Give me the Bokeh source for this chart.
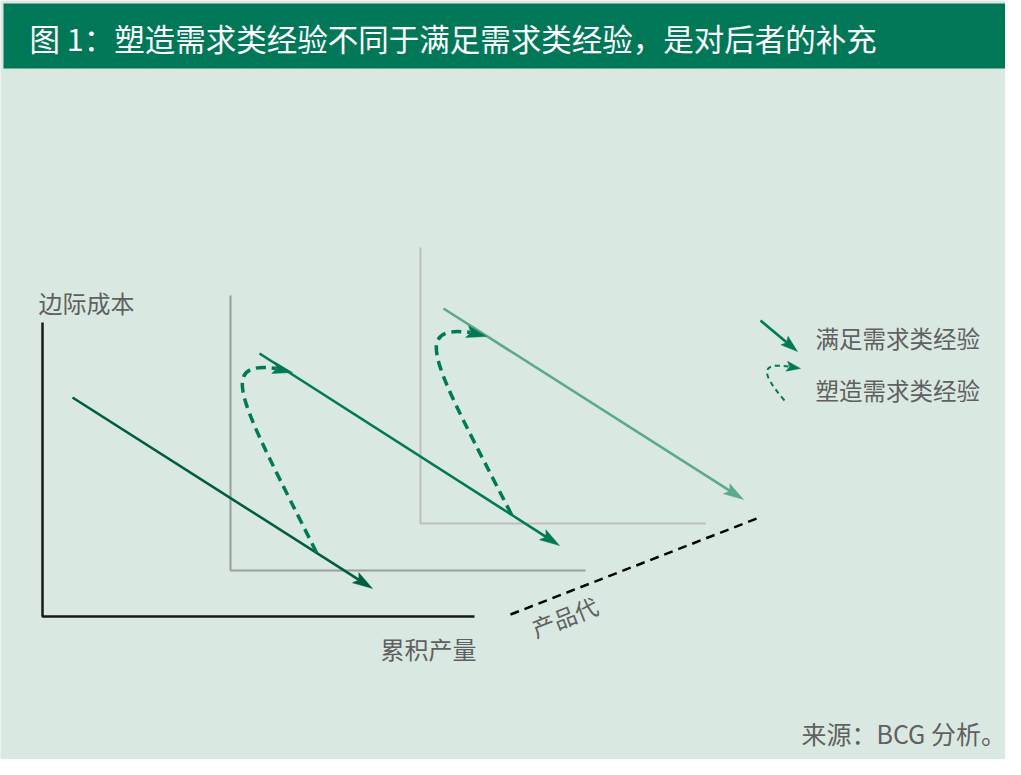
import math
from bokeh.plotting import figure
from bokeh.models import Range1d
from bokeh.core.properties import value
from bokeh.embed import file_html
from bokeh.resources import INLINE

# ---------------- data ----------------
title_text = "图 1：塑造需求类经验不同于满足需求类经验，是对后者的补充"
y_label = "边际成本"
x_label = "累积产量"
gen_label = "产品代"
legend_labels = ["满足需求类经验", "塑造需求类经验"]
source_text = "来源：BCG 分析。"

# axis frames for the three product generations (L shapes)
frame_x0 = [42, 230, 420]
frame_y0 = [616, 570, 523]
frame_top = [322, 295, 247]
frame_right = [474, 585, 705]

# "satisfy demand" experience curves (straight arrows)
curve_x0 = [72, 259, 443]
curve_y0 = [397, 353, 308]
curve_x1 = [372, 559, 743]
curve_y1 = [588, 545, 499]

# "shape demand" loops (cubic bezier)
loop_x0 = [316, 511]
loop_y0 = [552, 514]
loop_cx0 = [240, 434]
loop_cy0 = [400, 364]
loop_cx1 = [215, 409]
loop_cy1 = [360, 324]
loop_x1 = [276, 470]
loop_y1 = [368, 332]
loop_tip_x = [292, 486]
loop_tip_y = [372, 336]

# product generation axis
gen_x = [510, 759]
gen_y = [614, 517]

# legend symbols
leg_arrow_x = [760, 797]
leg_arrow_y = [320, 351]
leg_loop = [784, 400, 760, 372, 760, 362, 788, 366]
leg_loop_tip = [800, 368]

# ---------------- styles ----------------
BG = "#D9E9E2"
TITLE_BG = "#007858"
FONT = "Noto Sans CJK SC"
frame_colors = ["#1A1A1A", "#9C9C9C", "#BDBDBD"]
frame_widths = [2.5, 2, 2]
curve_colors = ["#005E40", "#007A55", "#5CAA8B"]
LOOP_COLOR = "#007A55"
TEXT_GRAY = "#606060"


def head(sx, sy, tx, ty, L, W, notch):
    """Arrow-head polygon at tip (tx, ty) pointing away from (sx, sy)."""
    dx, dy = tx - sx, ty - sy
    n = math.hypot(dx, dy)
    ux, uy = dx / n, dy / n
    px, py = -uy, ux
    bx, by = tx - L * ux, ty - L * uy
    mx, my = tx - (L - notch) * ux, ty - (L - notch) * uy
    xs = [tx, bx + W / 2 * px, mx, bx - W / 2 * px]
    ys = [ty, by + W / 2 * py, my, by - W / 2 * py]
    return xs, ys, mx, my


p = figure(width=1005, height=759, output_backend="svg", toolbar_location=None,
           x_range=Range1d(0, 1005), y_range=Range1d(759, 0),
           min_border=0, background_fill_color=BG, border_fill_color=BG)
p.axis.visible = False
p.grid.visible = False
p.outline_line_color = None

# title bar
p.quad(left=[3], right=[1030], top=[3], bottom=[68], fill_color=TITLE_BG, line_color=None)
p.text(x=[29], y=[37], text=[title_text], text_font=value(FONT), text_font_size="30.5px",
       text_color="white", text_baseline="middle", text_align="left")

# frames (back to front)
for i in [2, 1, 0]:
    p.line(x=[frame_x0[i], frame_x0[i], frame_right[i]],
           y=[frame_top[i], frame_y0[i], frame_y0[i]],
           line_color=frame_colors[i], line_width=frame_widths[i])

# generation axis
p.line(x=gen_x, y=gen_y, line_color="black", line_width=2.5, line_dash="9 6")

# straight arrows
for i in range(3):
    c = curve_colors[i]
    hx, hy, mx, my = head(curve_x0[i], curve_y0[i], curve_x1[i], curve_y1[i], 20, 12, 4)
    p.segment(x0=[curve_x0[i]], y0=[curve_y0[i]], x1=[mx], y1=[my], line_color=c, line_width=2.6)
    p.patch(x=hx, y=hy, fill_color=c, line_color=c, line_width=0.5)

# dashed loops
p.bezier(x0=loop_x0, y0=loop_y0, x1=loop_x1, y1=loop_y1,
         cx0=loop_cx0, cy0=loop_cy0, cx1=loop_cx1, cy1=loop_cy1,
         line_color=LOOP_COLOR, line_width=3.5, line_dash="10 6")
for i in range(2):
    hx, hy, _, _ = head(loop_x1[i], loop_y1[i], loop_tip_x[i], loop_tip_y[i], 20, 12, 4)
    p.patch(x=hx, y=hy, fill_color=LOOP_COLOR, line_color=LOOP_COLOR, line_width=0.5)

# legend
hx, hy, mx, my = head(leg_arrow_x[0], leg_arrow_y[0], leg_arrow_x[1], leg_arrow_y[1], 17, 11, 3)
p.segment(x0=[leg_arrow_x[0]], y0=[leg_arrow_y[0]], x1=[mx], y1=[my], line_color=LOOP_COLOR, line_width=2.6)
p.patch(x=hx, y=hy, fill_color=LOOP_COLOR, line_color=LOOP_COLOR, line_width=0.5)
p.bezier(x0=[leg_loop[0]], y0=[leg_loop[1]], cx0=[leg_loop[2]], cy0=[leg_loop[3]],
         cx1=[leg_loop[4]], cy1=[leg_loop[5]], x1=[leg_loop[6]], y1=[leg_loop[7]],
         line_color=LOOP_COLOR, line_width=2, line_dash="5 4")
hx, hy, _, _ = head(leg_loop[6], leg_loop[7], leg_loop_tip[0], leg_loop_tip[1], 14, 10, 3)
p.patch(x=hx, y=hy, fill_color=LOOP_COLOR, line_color=LOOP_COLOR, line_width=0.5)
p.text(x=[815, 815], y=[337, 389], text=legend_labels, text_font=value(FONT),
       text_font_size="23.5px", text_color=TEXT_GRAY, text_baseline="middle", text_align="left")

# axis labels
p.text(x=[38], y=[302], text=[y_label], text_font=value(FONT), text_font_size="24px",
       text_color=TEXT_GRAY, text_baseline="middle", text_align="left")
p.text(x=[380], y=[648], text=[x_label], text_font=value(FONT), text_font_size="24px",
       text_color=TEXT_GRAY, text_baseline="middle", text_align="left")
p.text(x=[564], y=[616], text=[gen_label], text_font=value(FONT), text_font_size="23px",
       text_color=TEXT_GRAY, text_baseline="middle", text_align="center", angle=0.37)

# source
p.text(x=[801], y=[732], text=[source_text], text_font=value(FONT), text_font_size="25px",
       text_color=TEXT_GRAY, text_baseline="middle", text_align="left")

open("out.html", "w").write(file_html(p, INLINE))
